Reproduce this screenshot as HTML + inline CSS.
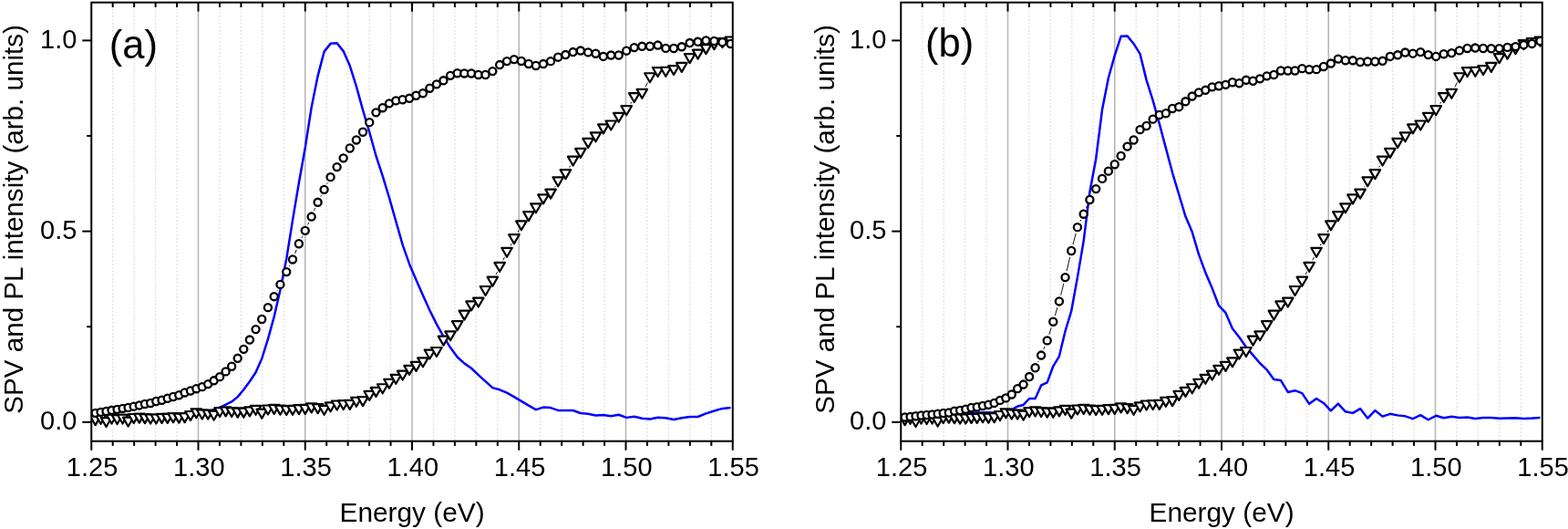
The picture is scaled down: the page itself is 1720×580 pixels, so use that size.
<!DOCTYPE html>
<html><head><meta charset="utf-8"><title>SPV and PL spectra</title>
<style>html,body{margin:0;padding:0;background:#fff;}body{width:1720px;height:580px;overflow:hidden;}svg{display:block;}</style>
</head><body>
<svg width="1720" height="580" viewBox="0 0 1720 580" font-family="'Liberation Sans', Arial, sans-serif">
<defs><clipPath id="clipa"><rect x="100.25" y="2.7" width="703.5" height="481"/></clipPath><clipPath id="clipb"><rect x="988.25" y="2.7" width="703.5" height="481"/></clipPath></defs>
<rect width="1720" height="580" fill="#fff"/>
<g stroke="#e0e0e0" stroke-width="1.3" stroke-dasharray="2 2"><line x1="123.7" y1="8.7" x2="123.7" y2="483.7"/><line x1="147.15" y1="8.7" x2="147.15" y2="483.7"/><line x1="170.6" y1="8.7" x2="170.6" y2="483.7"/><line x1="194.05" y1="8.7" x2="194.05" y2="483.7"/><line x1="240.95" y1="8.7" x2="240.95" y2="483.7"/><line x1="264.4" y1="8.7" x2="264.4" y2="483.7"/><line x1="287.85" y1="8.7" x2="287.85" y2="483.7"/><line x1="311.3" y1="8.7" x2="311.3" y2="483.7"/><line x1="358.2" y1="8.7" x2="358.2" y2="483.7"/><line x1="381.65" y1="8.7" x2="381.65" y2="483.7"/><line x1="405.1" y1="8.7" x2="405.1" y2="483.7"/><line x1="428.55" y1="8.7" x2="428.55" y2="483.7"/><line x1="475.45" y1="8.7" x2="475.45" y2="483.7"/><line x1="498.9" y1="8.7" x2="498.9" y2="483.7"/><line x1="522.35" y1="8.7" x2="522.35" y2="483.7"/><line x1="545.8" y1="8.7" x2="545.8" y2="483.7"/><line x1="592.7" y1="8.7" x2="592.7" y2="483.7"/><line x1="616.15" y1="8.7" x2="616.15" y2="483.7"/><line x1="639.6" y1="8.7" x2="639.6" y2="483.7"/><line x1="663.05" y1="8.7" x2="663.05" y2="483.7"/><line x1="709.95" y1="8.7" x2="709.95" y2="483.7"/><line x1="733.4" y1="8.7" x2="733.4" y2="483.7"/><line x1="756.85" y1="8.7" x2="756.85" y2="483.7"/><line x1="780.3" y1="8.7" x2="780.3" y2="483.7"/></g>
<g stroke="#b4b4b4" stroke-width="1.5"><line x1="217.5" y1="12.7" x2="217.5" y2="483.7"/><line x1="334.75" y1="12.7" x2="334.75" y2="483.7"/><line x1="452" y1="12.7" x2="452" y2="483.7"/><line x1="569.25" y1="12.7" x2="569.25" y2="483.7"/><line x1="686.5" y1="12.7" x2="686.5" y2="483.7"/></g>
<g clip-path="url(#clipa)">
<polyline fill="none" stroke="#0000ff" stroke-width="2.5" stroke-linejoin="round" points="104.61,458.03 110.55,458.06 116.51,458.1 122.5,458.13 128.51,458.17 134.55,458.2 140.61,458.24 146.7,458.27 152.81,458.31 158.95,458.35 165.11,458.38 171.3,458.42 177.51,458.46 183.75,458.49 190.01,457.91 196.31,457.18 202.62,456.44 208.97,455.7 215.34,454.91 221.73,453.2 228.16,451.49 234.61,449.25 241.09,446.79 247.59,443.7 254.13,440.44 260.69,435.12 267.28,427.24 273.9,418.2 280.54,408.27 287.22,393.14 293.92,371.89 300.65,347.4 307.41,317.94 314.2,283.99 321.02,241.37 327.87,200.49 334.75,162.04 341.66,117.7 348.6,83.37 355.57,56.62 362.57,47.86 369.6,47.2 376.66,56.1 383.76,72.07 390.88,94.6 398.04,120.56 405.23,144.82 412.45,170.75 419.7,192.77 426.98,216.94 434.3,242.56 441.65,268.29 449.04,289.42 456.45,306.73 463.91,323.79 471.39,340.28 478.91,355.32 486.46,368.81 494.05,381.08 501.67,391.51 509.33,398.4 517.02,403.74 524.75,411.08 532.52,418.2 540.32,425.08 548.15,427.28 556.03,430.62 563.94,435.11 571.88,439.88 579.87,444.67 587.89,449.13 595.95,446.59 604.05,447.1 612.18,449.89 620.36,450 628.57,450 636.83,453 645.12,453.77 653.45,455.44 661.82,455.04 670.23,456.33 678.69,454.76 687.18,457.88 695.72,456.83 704.29,458.82 712.91,459.45 721.57,457.71 730.27,458.3 739.02,460.05 747.81,458.24 756.64,457 765.52,457 774.44,453.32 783.4,450.46 792.41,447.88 801.46,447.11"/>
<path fill="none" stroke="#111" stroke-width="1" d="M544.07 301.09L545.54 298.1M551.87 285.23L553.43 282.06M560.11 269.23L561.16 267.28M567.97 254.63L569.13 252.47M608.59 205.19L609.2 204.18M624.59 183.62L625.73 181.62M691.68 113.74L692.75 111.97M708.01 95.26L710.32 90.54"/>
<g fill="#fff" stroke="#000" stroke-width="2.2" stroke-linejoin="round"><path d="M98.86 456.12H110.36L104.61 466.08Z"/><path d="M104.8 454.84H116.3L110.55 464.8Z"/><path d="M110.76 458.05H122.26L116.51 468.01Z"/><path d="M116.75 454.57H128.25L122.5 464.53Z"/><path d="M122.76 455.08H134.26L128.51 465.04Z"/><path d="M128.8 454.55H140.3L134.55 464.5Z"/><path d="M134.86 457.61H146.36L140.61 467.57Z"/><path d="M140.95 454.01H152.45L146.7 463.97Z"/><path d="M147.06 453.65H158.56L152.81 463.6Z"/><path d="M153.2 454.13H164.7L158.95 464.09Z"/><path d="M159.36 454.52H170.86L165.11 464.48Z"/><path d="M165.55 454.52H177.05L171.3 464.47Z"/><path d="M171.76 453.87H183.26L177.51 463.83Z"/><path d="M178 453.87H189.5L183.75 463.83Z"/><path d="M184.26 453.22H195.76L190.01 463.18Z"/><path d="M190.56 453.62H202.06L196.31 463.58Z"/><path d="M196.87 453.18H208.37L202.62 463.14Z"/><path d="M203.22 451.02H214.72L208.97 460.98Z"/><path d="M209.59 448.28H221.09L215.34 458.24Z"/><path d="M215.98 449.49H227.48L221.73 459.45Z"/><path d="M222.41 449.53H233.91L228.16 459.49Z"/><path d="M228.86 450.61H240.36L234.61 460.57Z"/><path d="M235.34 447.11H246.84L241.09 457.07Z"/><path d="M241.84 446.38H253.34L247.59 456.34Z"/><path d="M248.38 447.06H259.88L254.13 457.02Z"/><path d="M254.94 447.65H266.44L260.69 457.61Z"/><path d="M261.53 447.68H273.03L267.28 457.64Z"/><path d="M268.15 446.38H279.65L273.9 456.34Z"/><path d="M274.79 444.83H286.29L280.54 454.79Z"/><path d="M281.47 448.71H292.97L287.22 458.67Z"/><path d="M288.17 444.5H299.67L293.92 454.46Z"/><path d="M294.9 443.94H306.4L300.65 453.9Z"/><path d="M301.66 444.63H313.16L307.41 454.59Z"/><path d="M308.45 445.07H319.95L314.2 455.03Z"/><path d="M315.27 444.86H326.77L321.02 454.82Z"/><path d="M322.12 444.12H333.62L327.87 454.08Z"/><path d="M329 443.87H340.5L334.75 453.83Z"/><path d="M335.91 442.42H347.41L341.66 452.38Z"/><path d="M342.85 443.2H354.35L348.6 453.16Z"/><path d="M349.82 444.79H361.32L355.57 454.75Z"/><path d="M356.82 441.35H368.32L362.57 451.31Z"/><path d="M363.85 439.51H375.35L369.6 449.47Z"/><path d="M370.91 439.11H382.41L376.66 449.07Z"/><path d="M378.01 438.87H389.51L383.76 448.83Z"/><path d="M385.13 435.77H396.63L390.88 445.73Z"/><path d="M392.29 435.13H403.79L398.04 445.08Z"/><path d="M399.48 428.95H410.98L405.23 438.9Z"/><path d="M406.7 424.9H418.2L412.45 434.86Z"/><path d="M413.95 421.27H425.45L419.7 431.23Z"/><path d="M421.23 415.77H432.73L426.98 425.73Z"/><path d="M428.55 410.85H440.05L434.3 420.81Z"/><path d="M435.9 406.59H447.4L441.65 416.55Z"/><path d="M443.29 400.86H454.79L449.04 410.82Z"/><path d="M450.7 396.94H462.2L456.45 406.9Z"/><path d="M458.16 392.33H469.66L463.91 402.29Z"/><path d="M465.64 383.57H477.14L471.39 393.53Z"/><path d="M473.16 381H484.66L478.91 390.96Z"/><path d="M480.71 368.66H492.21L486.46 378.62Z"/><path d="M488.3 363.36H499.8L494.05 373.32Z"/><path d="M495.92 352.16H507.42L501.67 362.12Z"/><path d="M503.58 340.64H515.08L509.33 350.6Z"/><path d="M511.27 330.46H522.77L517.02 340.42Z"/><path d="M519 326.59H530.5L524.75 336.55Z"/><path d="M526.77 313.99H538.27L532.52 323.95Z"/><path d="M534.57 303.69H546.07L540.32 313.65Z"/><path d="M542.4 287.84H553.9L548.15 297.8Z"/><path d="M550.28 271.78H561.78L556.03 281.74Z"/><path d="M558.19 257.18H569.69L563.94 267.14Z"/><path d="M566.13 242.35H577.63L571.88 252.31Z"/><path d="M574.12 232.12H585.62L579.87 242.08Z"/><path d="M582.14 223.28H593.64L587.89 233.24Z"/><path d="M590.2 213.45H601.7L595.95 223.41Z"/><path d="M598.3 207.66H609.8L604.05 217.62Z"/><path d="M606.43 194.3H617.93L612.18 204.26Z"/><path d="M614.61 186.15H626.11L620.36 196.11Z"/><path d="M622.82 171.59H634.32L628.57 181.55Z"/><path d="M631.08 162.92H642.58L636.83 172.88Z"/><path d="M639.37 151.93H650.87L645.12 161.89Z"/><path d="M647.7 145.31H659.2L653.45 155.26Z"/><path d="M656.07 136.42H667.57L661.82 146.38Z"/><path d="M664.48 132.49H675.98L670.23 142.44Z"/><path d="M672.94 123.83H684.44L678.69 133.79Z"/><path d="M681.43 116.22H692.93L687.18 126.18Z"/><path d="M689.97 102.08H701.47L695.72 112.04Z"/><path d="M698.54 97.86H710.04L704.29 107.82Z"/><path d="M707.16 80.26H718.66L712.91 90.22Z"/><path d="M715.82 74.05H727.32L721.57 84.01Z"/><path d="M724.52 73.77H736.02L730.27 83.73Z"/><path d="M733.27 72.11H744.77L739.02 82.07Z"/><path d="M742.06 68.93H753.56L747.81 78.89Z"/><path d="M750.89 59.18H762.39L756.64 69.14Z"/><path d="M759.77 54.63H771.27L765.52 64.59Z"/><path d="M768.69 49.12H780.19L774.44 59.08Z"/><path d="M777.65 44.21H789.15L783.4 54.17Z"/><path d="M786.66 42.04H798.16L792.41 52Z"/><path d="M795.71 40.52H807.21L801.46 50.48Z"/></g>
<path fill="none" stroke="#111" stroke-width="1" d="M303.83 318.94L304.23 318.16M310.5 305.64L311.11 304.39M317.33 291.84L317.89 290.72M323.61 277.95L325.28 273.75M330.89 260.93L331.73 259.17M337.63 246.48L338.78 243.94M344.48 231.16L345.78 228.21M351.73 215.54L352.44 214.13M358.75 201.63L359.39 200.38"/>
<g fill="#fff" stroke="#000" stroke-width="2.3"><circle cx="104.61" cy="452.85" r="4.05"/><circle cx="110.55" cy="451.86" r="4.05"/><circle cx="116.51" cy="450.95" r="4.05"/><circle cx="122.5" cy="449.8" r="4.05"/><circle cx="128.51" cy="448.84" r="4.05"/><circle cx="134.55" cy="447.87" r="4.05"/><circle cx="140.61" cy="446.88" r="4.05"/><circle cx="146.7" cy="445.66" r="4.05"/><circle cx="152.81" cy="444.43" r="4.05"/><circle cx="158.95" cy="442.97" r="4.05"/><circle cx="165.11" cy="441.96" r="4.05"/><circle cx="171.3" cy="439.99" r="4.05"/><circle cx="177.51" cy="438.75" r="4.05"/><circle cx="183.75" cy="436.75" r="4.05"/><circle cx="190.01" cy="435" r="4.05"/><circle cx="196.31" cy="433.23" r="4.05"/><circle cx="202.62" cy="430.46" r="4.05"/><circle cx="208.97" cy="428.51" r="4.05"/><circle cx="215.34" cy="426.22" r="4.05"/><circle cx="221.73" cy="424.15" r="4.05"/><circle cx="228.16" cy="421.11" r="4.05"/><circle cx="234.61" cy="417.31" r="4.05"/><circle cx="241.09" cy="413.14" r="4.05"/><circle cx="247.59" cy="407.38" r="4.05"/><circle cx="254.13" cy="401.75" r="4.05"/><circle cx="260.69" cy="392.81" r="4.05"/><circle cx="267.28" cy="382.84" r="4.05"/><circle cx="273.9" cy="372.55" r="4.05"/><circle cx="280.54" cy="361.11" r="4.05"/><circle cx="287.22" cy="349.97" r="4.05"/><circle cx="293.92" cy="337.16" r="4.05"/><circle cx="300.65" cy="325.18" r="4.05"/><circle cx="307.41" cy="311.92" r="4.05"/><circle cx="314.2" cy="298.11" r="4.05"/><circle cx="321.02" cy="284.46" r="4.05"/><circle cx="327.87" cy="267.25" r="4.05"/><circle cx="334.75" cy="252.85" r="4.05"/><circle cx="341.66" cy="237.56" r="4.05"/><circle cx="348.6" cy="221.8" r="4.05"/><circle cx="355.57" cy="207.87" r="4.05"/><circle cx="362.57" cy="194.14" r="4.05"/><circle cx="369.6" cy="183.11" r="4.05"/><circle cx="376.66" cy="173.37" r="4.05"/><circle cx="383.76" cy="162.49" r="4.05"/><circle cx="390.88" cy="153.47" r="4.05"/><circle cx="398.04" cy="144.76" r="4.05"/><circle cx="405.23" cy="134.16" r="4.05"/><circle cx="412.45" cy="123.33" r="4.05"/><circle cx="419.7" cy="118.21" r="4.05"/><circle cx="426.98" cy="113.34" r="4.05"/><circle cx="434.3" cy="110.38" r="4.05"/><circle cx="441.65" cy="109.24" r="4.05"/><circle cx="449.04" cy="107.79" r="4.05"/><circle cx="456.45" cy="104.73" r="4.05"/><circle cx="463.91" cy="102.2" r="4.05"/><circle cx="471.39" cy="96.72" r="4.05"/><circle cx="478.91" cy="92.33" r="4.05"/><circle cx="486.46" cy="88.29" r="4.05"/><circle cx="494.05" cy="82.83" r="4.05"/><circle cx="501.67" cy="80.2" r="4.05"/><circle cx="509.33" cy="80.46" r="4.05"/><circle cx="517.02" cy="80.5" r="4.05"/><circle cx="524.75" cy="81.95" r="4.05"/><circle cx="532.52" cy="81.99" r="4.05"/><circle cx="540.32" cy="78.09" r="4.05"/><circle cx="548.15" cy="71.06" r="4.05"/><circle cx="556.03" cy="67.11" r="4.05"/><circle cx="563.94" cy="65.08" r="4.05"/><circle cx="571.88" cy="66.97" r="4.05"/><circle cx="579.87" cy="69.95" r="4.05"/><circle cx="587.89" cy="71.97" r="4.05"/><circle cx="595.95" cy="70.07" r="4.05"/><circle cx="604.05" cy="67.16" r="4.05"/><circle cx="612.18" cy="62.68" r="4.05"/><circle cx="620.36" cy="60.04" r="4.05"/><circle cx="628.57" cy="57.06" r="4.05"/><circle cx="636.83" cy="55.53" r="4.05"/><circle cx="645.12" cy="57.41" r="4.05"/><circle cx="653.45" cy="58.7" r="4.05"/><circle cx="661.82" cy="61.93" r="4.05"/><circle cx="670.23" cy="60.55" r="4.05"/><circle cx="678.69" cy="60.5" r="4.05"/><circle cx="687.18" cy="55.69" r="4.05"/><circle cx="695.72" cy="52.12" r="4.05"/><circle cx="704.29" cy="50.78" r="4.05"/><circle cx="712.91" cy="50.75" r="4.05"/><circle cx="721.57" cy="49.56" r="4.05"/><circle cx="730.27" cy="52.91" r="4.05"/><circle cx="739.02" cy="53" r="4.05"/><circle cx="747.81" cy="51.29" r="4.05"/><circle cx="756.64" cy="47.05" r="4.05"/><circle cx="765.52" cy="45.78" r="4.05"/><circle cx="774.44" cy="44.51" r="4.05"/><circle cx="783.4" cy="44.98" r="4.05"/><circle cx="792.41" cy="46.24" r="4.05"/><circle cx="801.46" cy="48" r="4.05"/></g>
</g>
<rect x="100.25" y="2.7" width="703.5" height="481" fill="none" stroke="#000" stroke-width="2"/>
<g stroke="#000" stroke-width="2"><line x1="100.25" y1="483.7" x2="100.25" y2="493.7"/><line x1="123.7" y1="2.7" x2="123.7" y2="8"/><line x1="123.7" y1="483.7" x2="123.7" y2="488.9"/><line x1="147.15" y1="2.7" x2="147.15" y2="8"/><line x1="147.15" y1="483.7" x2="147.15" y2="488.9"/><line x1="170.6" y1="2.7" x2="170.6" y2="8"/><line x1="170.6" y1="483.7" x2="170.6" y2="488.9"/><line x1="194.05" y1="2.7" x2="194.05" y2="8"/><line x1="194.05" y1="483.7" x2="194.05" y2="488.9"/><line x1="217.5" y1="2.7" x2="217.5" y2="12.7"/><line x1="217.5" y1="483.7" x2="217.5" y2="493.7"/><line x1="240.95" y1="2.7" x2="240.95" y2="8"/><line x1="240.95" y1="483.7" x2="240.95" y2="488.9"/><line x1="264.4" y1="2.7" x2="264.4" y2="8"/><line x1="264.4" y1="483.7" x2="264.4" y2="488.9"/><line x1="287.85" y1="2.7" x2="287.85" y2="8"/><line x1="287.85" y1="483.7" x2="287.85" y2="488.9"/><line x1="311.3" y1="2.7" x2="311.3" y2="8"/><line x1="311.3" y1="483.7" x2="311.3" y2="488.9"/><line x1="334.75" y1="2.7" x2="334.75" y2="12.7"/><line x1="334.75" y1="483.7" x2="334.75" y2="493.7"/><line x1="358.2" y1="2.7" x2="358.2" y2="8"/><line x1="358.2" y1="483.7" x2="358.2" y2="488.9"/><line x1="381.65" y1="2.7" x2="381.65" y2="8"/><line x1="381.65" y1="483.7" x2="381.65" y2="488.9"/><line x1="405.1" y1="2.7" x2="405.1" y2="8"/><line x1="405.1" y1="483.7" x2="405.1" y2="488.9"/><line x1="428.55" y1="2.7" x2="428.55" y2="8"/><line x1="428.55" y1="483.7" x2="428.55" y2="488.9"/><line x1="452" y1="2.7" x2="452" y2="12.7"/><line x1="452" y1="483.7" x2="452" y2="493.7"/><line x1="475.45" y1="2.7" x2="475.45" y2="8"/><line x1="475.45" y1="483.7" x2="475.45" y2="488.9"/><line x1="498.9" y1="2.7" x2="498.9" y2="8"/><line x1="498.9" y1="483.7" x2="498.9" y2="488.9"/><line x1="522.35" y1="2.7" x2="522.35" y2="8"/><line x1="522.35" y1="483.7" x2="522.35" y2="488.9"/><line x1="545.8" y1="2.7" x2="545.8" y2="8"/><line x1="545.8" y1="483.7" x2="545.8" y2="488.9"/><line x1="569.25" y1="2.7" x2="569.25" y2="12.7"/><line x1="569.25" y1="483.7" x2="569.25" y2="493.7"/><line x1="592.7" y1="2.7" x2="592.7" y2="8"/><line x1="592.7" y1="483.7" x2="592.7" y2="488.9"/><line x1="616.15" y1="2.7" x2="616.15" y2="8"/><line x1="616.15" y1="483.7" x2="616.15" y2="488.9"/><line x1="639.6" y1="2.7" x2="639.6" y2="8"/><line x1="639.6" y1="483.7" x2="639.6" y2="488.9"/><line x1="663.05" y1="2.7" x2="663.05" y2="8"/><line x1="663.05" y1="483.7" x2="663.05" y2="488.9"/><line x1="686.5" y1="2.7" x2="686.5" y2="12.7"/><line x1="686.5" y1="483.7" x2="686.5" y2="493.7"/><line x1="709.95" y1="2.7" x2="709.95" y2="8"/><line x1="709.95" y1="483.7" x2="709.95" y2="488.9"/><line x1="733.4" y1="2.7" x2="733.4" y2="8"/><line x1="733.4" y1="483.7" x2="733.4" y2="488.9"/><line x1="756.85" y1="2.7" x2="756.85" y2="8"/><line x1="756.85" y1="483.7" x2="756.85" y2="488.9"/><line x1="780.3" y1="2.7" x2="780.3" y2="8"/><line x1="780.3" y1="483.7" x2="780.3" y2="488.9"/><line x1="803.75" y1="483.7" x2="803.75" y2="493.7"/><line x1="90.25" y1="462.8" x2="100.25" y2="462.8"/><line x1="95.25" y1="358.2" x2="100.25" y2="358.2"/><line x1="90.25" y1="253.6" x2="100.25" y2="253.6"/><line x1="95.25" y1="149" x2="100.25" y2="149"/><line x1="90.25" y1="44.4" x2="100.25" y2="44.4"/></g>
<g font-size="29px"><text x="101.05" y="522" text-anchor="middle">1.25</text><text x="218.3" y="522" text-anchor="middle">1.30</text><text x="335.55" y="522" text-anchor="middle">1.35</text><text x="452.8" y="522" text-anchor="middle">1.40</text><text x="570.05" y="522" text-anchor="middle">1.45</text><text x="687.3" y="522" text-anchor="middle">1.50</text><text x="804.55" y="522" text-anchor="middle">1.55</text><text x="84.45" y="471.3" text-anchor="end">0.0</text><text x="84.45" y="262.1" text-anchor="end">0.5</text><text x="84.45" y="52.9" text-anchor="end">1.0</text></g>
<text x="452.1" y="572.4" font-size="29.8px" text-anchor="middle">Energy (eV)</text>
<text transform="translate(24.6 240.4) rotate(-90)" font-size="29.6px" text-anchor="middle">SPV and PL intensity (arb. units)</text>
<text x="146.3" y="63.8" font-size="43.5px" text-anchor="middle">(a)</text>
<g stroke="#e0e0e0" stroke-width="1.3" stroke-dasharray="2 2"><line x1="1011.7" y1="8.7" x2="1011.7" y2="483.7"/><line x1="1035.15" y1="8.7" x2="1035.15" y2="483.7"/><line x1="1058.6" y1="8.7" x2="1058.6" y2="483.7"/><line x1="1082.05" y1="8.7" x2="1082.05" y2="483.7"/><line x1="1128.95" y1="8.7" x2="1128.95" y2="483.7"/><line x1="1152.4" y1="8.7" x2="1152.4" y2="483.7"/><line x1="1175.85" y1="8.7" x2="1175.85" y2="483.7"/><line x1="1199.3" y1="8.7" x2="1199.3" y2="483.7"/><line x1="1246.2" y1="8.7" x2="1246.2" y2="483.7"/><line x1="1269.65" y1="8.7" x2="1269.65" y2="483.7"/><line x1="1293.1" y1="8.7" x2="1293.1" y2="483.7"/><line x1="1316.55" y1="8.7" x2="1316.55" y2="483.7"/><line x1="1363.45" y1="8.7" x2="1363.45" y2="483.7"/><line x1="1386.9" y1="8.7" x2="1386.9" y2="483.7"/><line x1="1410.35" y1="8.7" x2="1410.35" y2="483.7"/><line x1="1433.8" y1="8.7" x2="1433.8" y2="483.7"/><line x1="1480.7" y1="8.7" x2="1480.7" y2="483.7"/><line x1="1504.15" y1="8.7" x2="1504.15" y2="483.7"/><line x1="1527.6" y1="8.7" x2="1527.6" y2="483.7"/><line x1="1551.05" y1="8.7" x2="1551.05" y2="483.7"/><line x1="1597.95" y1="8.7" x2="1597.95" y2="483.7"/><line x1="1621.4" y1="8.7" x2="1621.4" y2="483.7"/><line x1="1644.85" y1="8.7" x2="1644.85" y2="483.7"/><line x1="1668.3" y1="8.7" x2="1668.3" y2="483.7"/></g>
<g stroke="#b4b4b4" stroke-width="1.5"><line x1="1105.5" y1="12.7" x2="1105.5" y2="483.7"/><line x1="1222.75" y1="12.7" x2="1222.75" y2="483.7"/><line x1="1340" y1="12.7" x2="1340" y2="483.7"/><line x1="1457.25" y1="12.7" x2="1457.25" y2="483.7"/><line x1="1574.5" y1="12.7" x2="1574.5" y2="483.7"/></g>
<g clip-path="url(#clipb)">
<polyline fill="none" stroke="#0000ff" stroke-width="2.5" stroke-linejoin="round" points="992.61,455.42 998.55,455.3 1004.51,455.19 1010.5,455.07 1016.51,454.95 1022.55,454.84 1028.61,454.72 1034.7,454.6 1040.81,454.44 1046.95,453.94 1053.11,453.45 1059.3,452.96 1065.51,452.49 1071.75,452.43 1078.01,452.36 1084.31,452.32 1090.62,452.4 1096.97,452.49 1103.34,450.9 1109.73,448.98 1116.16,445.54 1122.61,443.95 1129.09,436.98 1135.59,437.04 1142.13,422.44 1148.69,419.36 1155.28,401.54 1161.9,390.55 1168.54,363.03 1175.22,340.91 1181.92,304.11 1188.65,264.36 1195.41,210.59 1202.2,174.26 1209.02,120.33 1215.87,85.51 1222.75,60.94 1229.66,39.83 1236.6,39.4 1243.57,47.95 1250.57,59.12 1257.6,87.83 1264.66,110.2 1271.76,135.67 1278.88,162.31 1286.04,189.29 1293.23,213.25 1300.45,237.32 1307.7,254.3 1314.98,278.94 1322.3,298.79 1329.65,316.07 1337.04,335.21 1344.45,342.91 1351.91,360.2 1359.39,369.82 1366.91,380.44 1374.46,389.39 1382.05,398.23 1389.67,405.45 1397.33,416.01 1405.02,417.04 1412.75,429.93 1420.52,428.19 1428.32,431.09 1436.15,442.85 1444.03,436.93 1451.94,441.96 1459.88,450.38 1467.87,442.63 1475.89,451.35 1483.95,452.88 1492.05,448.06 1500.18,458.55 1508.36,450.09 1516.57,456.64 1524.83,453.81 1533.12,455.37 1541.45,456.32 1549.82,459.19 1558.23,455.16 1566.69,460.26 1575.18,455.8 1583.72,458.24 1592.29,456.79 1600.91,457.95 1609.57,457.52 1618.27,458.92 1627.02,458.05 1635.81,458 1644.64,458.72 1653.52,458.51 1662.44,458.25 1671.4,458.92 1680.41,458.55 1689.46,457.91"/>
<path fill="none" stroke="#111" stroke-width="1" d="M1432.07 301.09L1433.54 298.1M1439.87 285.23L1441.43 282.06M1448.11 269.23L1449.16 267.28M1455.97 254.63L1457.13 252.47M1496.59 205.19L1497.2 204.18M1512.59 183.62L1513.73 181.62M1579.68 113.74L1580.75 111.97M1596.01 95.26L1598.32 90.54"/>
<g fill="#fff" stroke="#000" stroke-width="2.2" stroke-linejoin="round"><path d="M986.86 456.12H998.36L992.61 466.08Z"/><path d="M992.8 454.84H1004.3L998.55 464.8Z"/><path d="M998.76 458.05H1010.26L1004.51 468.01Z"/><path d="M1004.75 454.57H1016.25L1010.5 464.53Z"/><path d="M1010.76 455.08H1022.26L1016.51 465.04Z"/><path d="M1016.8 454.55H1028.3L1022.55 464.5Z"/><path d="M1022.86 457.61H1034.36L1028.61 467.57Z"/><path d="M1028.95 454.01H1040.45L1034.7 463.97Z"/><path d="M1035.06 453.65H1046.56L1040.81 463.6Z"/><path d="M1041.2 454.13H1052.7L1046.95 464.09Z"/><path d="M1047.36 454.52H1058.86L1053.11 464.48Z"/><path d="M1053.55 454.52H1065.05L1059.3 464.47Z"/><path d="M1059.76 453.87H1071.26L1065.51 463.83Z"/><path d="M1066 453.87H1077.5L1071.75 463.83Z"/><path d="M1072.26 453.22H1083.76L1078.01 463.18Z"/><path d="M1078.56 453.62H1090.06L1084.31 463.58Z"/><path d="M1084.87 453.18H1096.37L1090.62 463.14Z"/><path d="M1091.22 451.02H1102.72L1096.97 460.98Z"/><path d="M1097.59 448.28H1109.09L1103.34 458.24Z"/><path d="M1103.98 449.49H1115.48L1109.73 459.45Z"/><path d="M1110.41 449.53H1121.91L1116.16 459.49Z"/><path d="M1116.86 450.61H1128.36L1122.61 460.57Z"/><path d="M1123.34 447.11H1134.84L1129.09 457.07Z"/><path d="M1129.84 446.38H1141.34L1135.59 456.34Z"/><path d="M1136.38 447.06H1147.88L1142.13 457.02Z"/><path d="M1142.94 447.65H1154.44L1148.69 457.61Z"/><path d="M1149.53 447.68H1161.03L1155.28 457.64Z"/><path d="M1156.15 446.38H1167.65L1161.9 456.34Z"/><path d="M1162.79 444.83H1174.29L1168.54 454.79Z"/><path d="M1169.47 448.71H1180.97L1175.22 458.67Z"/><path d="M1176.17 444.5H1187.67L1181.92 454.46Z"/><path d="M1182.9 443.94H1194.4L1188.65 453.9Z"/><path d="M1189.66 444.63H1201.16L1195.41 454.59Z"/><path d="M1196.45 445.07H1207.95L1202.2 455.03Z"/><path d="M1203.27 444.86H1214.77L1209.02 454.82Z"/><path d="M1210.12 444.12H1221.62L1215.87 454.08Z"/><path d="M1217 443.87H1228.5L1222.75 453.83Z"/><path d="M1223.91 442.42H1235.41L1229.66 452.38Z"/><path d="M1230.85 443.2H1242.35L1236.6 453.16Z"/><path d="M1237.82 444.79H1249.32L1243.57 454.75Z"/><path d="M1244.82 441.35H1256.32L1250.57 451.31Z"/><path d="M1251.85 439.51H1263.35L1257.6 449.47Z"/><path d="M1258.91 439.11H1270.41L1264.66 449.07Z"/><path d="M1266.01 438.87H1277.51L1271.76 448.83Z"/><path d="M1273.13 435.77H1284.63L1278.88 445.73Z"/><path d="M1280.29 435.13H1291.79L1286.04 445.08Z"/><path d="M1287.48 428.95H1298.98L1293.23 438.9Z"/><path d="M1294.7 424.9H1306.2L1300.45 434.86Z"/><path d="M1301.95 421.27H1313.45L1307.7 431.23Z"/><path d="M1309.23 415.77H1320.73L1314.98 425.73Z"/><path d="M1316.55 410.85H1328.05L1322.3 420.81Z"/><path d="M1323.9 406.59H1335.4L1329.65 416.55Z"/><path d="M1331.29 400.86H1342.79L1337.04 410.82Z"/><path d="M1338.7 396.94H1350.2L1344.45 406.9Z"/><path d="M1346.16 392.33H1357.66L1351.91 402.29Z"/><path d="M1353.64 383.57H1365.14L1359.39 393.53Z"/><path d="M1361.16 381H1372.66L1366.91 390.96Z"/><path d="M1368.71 368.66H1380.21L1374.46 378.62Z"/><path d="M1376.3 363.36H1387.8L1382.05 373.32Z"/><path d="M1383.92 352.16H1395.42L1389.67 362.12Z"/><path d="M1391.58 340.64H1403.08L1397.33 350.6Z"/><path d="M1399.27 330.46H1410.77L1405.02 340.42Z"/><path d="M1407 326.59H1418.5L1412.75 336.55Z"/><path d="M1414.77 313.99H1426.27L1420.52 323.95Z"/><path d="M1422.57 303.69H1434.07L1428.32 313.65Z"/><path d="M1430.4 287.84H1441.9L1436.15 297.8Z"/><path d="M1438.28 271.78H1449.78L1444.03 281.74Z"/><path d="M1446.19 257.18H1457.69L1451.94 267.14Z"/><path d="M1454.13 242.35H1465.63L1459.88 252.31Z"/><path d="M1462.12 232.12H1473.62L1467.87 242.08Z"/><path d="M1470.14 223.28H1481.64L1475.89 233.24Z"/><path d="M1478.2 213.45H1489.7L1483.95 223.41Z"/><path d="M1486.3 207.66H1497.8L1492.05 217.62Z"/><path d="M1494.43 194.3H1505.93L1500.18 204.26Z"/><path d="M1502.61 186.15H1514.11L1508.36 196.11Z"/><path d="M1510.82 171.59H1522.32L1516.57 181.55Z"/><path d="M1519.08 162.92H1530.58L1524.83 172.88Z"/><path d="M1527.37 151.93H1538.87L1533.12 161.89Z"/><path d="M1535.7 145.31H1547.2L1541.45 155.26Z"/><path d="M1544.07 136.42H1555.57L1549.82 146.38Z"/><path d="M1552.48 132.49H1563.98L1558.23 142.44Z"/><path d="M1560.94 123.83H1572.44L1566.69 133.79Z"/><path d="M1569.43 116.22H1580.93L1575.18 126.18Z"/><path d="M1577.97 102.08H1589.47L1583.72 112.04Z"/><path d="M1586.54 97.86H1598.04L1592.29 107.82Z"/><path d="M1595.16 80.26H1606.66L1600.91 90.22Z"/><path d="M1603.82 74.05H1615.32L1609.57 84.01Z"/><path d="M1612.52 73.77H1624.02L1618.27 83.73Z"/><path d="M1621.27 72.11H1632.77L1627.02 82.07Z"/><path d="M1630.06 68.93H1641.56L1635.81 78.89Z"/><path d="M1638.89 59.18H1650.39L1644.64 69.14Z"/><path d="M1647.77 54.63H1659.27L1653.52 64.59Z"/><path d="M1656.69 49.12H1668.19L1662.44 59.08Z"/><path d="M1665.65 44.21H1677.15L1671.4 54.17Z"/><path d="M1674.66 42.04H1686.16L1680.41 52Z"/><path d="M1683.71 40.52H1695.21L1689.46 50.48Z"/></g>
<path fill="none" stroke="#111" stroke-width="1" d="M1138.61 396.95L1139.12 395.88M1144.76 383.07L1146.06 379.88M1150.81 366.72L1153.15 359.38M1157.27 346L1159.9 337.15M1163.61 323.65L1166.83 310.87M1170.11 297.26L1173.65 281.81M1176.97 268.21L1180.16 255.91M1184.88 242.79L1185.69 241.06M1191.41 228.28L1192.65 225.39"/>
<g fill="#fff" stroke="#000" stroke-width="2.3"><circle cx="992.61" cy="457.43" r="4.05"/><circle cx="998.55" cy="456.93" r="4.05"/><circle cx="1004.51" cy="456.22" r="4.05"/><circle cx="1010.5" cy="455.5" r="4.05"/><circle cx="1016.51" cy="454.98" r="4.05"/><circle cx="1022.55" cy="454.49" r="4.05"/><circle cx="1028.61" cy="453.74" r="4.05"/><circle cx="1034.7" cy="453.01" r="4.05"/><circle cx="1040.81" cy="452.52" r="4.05"/><circle cx="1046.95" cy="450.6" r="4.05"/><circle cx="1053.11" cy="449.98" r="4.05"/><circle cx="1059.3" cy="448.74" r="4.05"/><circle cx="1065.51" cy="447" r="4.05"/><circle cx="1071.75" cy="446.25" r="4.05"/><circle cx="1078.01" cy="445" r="4.05"/><circle cx="1084.31" cy="443.73" r="4.05"/><circle cx="1090.62" cy="441.94" r="4.05"/><circle cx="1096.97" cy="438.89" r="4.05"/><circle cx="1103.34" cy="436.41" r="4.05"/><circle cx="1109.73" cy="432.48" r="4.05"/><circle cx="1116.16" cy="426.15" r="4.05"/><circle cx="1122.61" cy="421.56" r="4.05"/><circle cx="1129.09" cy="413.04" r="4.05"/><circle cx="1135.59" cy="403.27" r="4.05"/><circle cx="1142.13" cy="389.56" r="4.05"/><circle cx="1148.69" cy="373.39" r="4.05"/><circle cx="1155.28" cy="352.71" r="4.05"/><circle cx="1161.9" cy="330.44" r="4.05"/><circle cx="1168.54" cy="304.08" r="4.05"/><circle cx="1175.22" cy="274.99" r="4.05"/><circle cx="1181.92" cy="249.14" r="4.05"/><circle cx="1188.65" cy="234.71" r="4.05"/><circle cx="1195.41" cy="218.96" r="4.05"/><circle cx="1202.2" cy="207.08" r="4.05"/><circle cx="1209.02" cy="195.88" r="4.05"/><circle cx="1215.87" cy="187.65" r="4.05"/><circle cx="1222.75" cy="180.27" r="4.05"/><circle cx="1229.66" cy="171.01" r="4.05"/><circle cx="1236.6" cy="160.6" r="4.05"/><circle cx="1243.57" cy="153.49" r="4.05"/><circle cx="1250.57" cy="142.15" r="4.05"/><circle cx="1257.6" cy="138" r="4.05"/><circle cx="1264.66" cy="130.64" r="4.05"/><circle cx="1271.76" cy="125.99" r="4.05"/><circle cx="1278.88" cy="124.23" r="4.05"/><circle cx="1286.04" cy="118.99" r="4.05"/><circle cx="1293.23" cy="117.18" r="4.05"/><circle cx="1300.45" cy="111.29" r="4.05"/><circle cx="1307.7" cy="105.54" r="4.05"/><circle cx="1314.98" cy="101.37" r="4.05"/><circle cx="1322.3" cy="98.82" r="4.05"/><circle cx="1329.65" cy="95.36" r="4.05"/><circle cx="1337.04" cy="94.26" r="4.05"/><circle cx="1344.45" cy="92.85" r="4.05"/><circle cx="1351.91" cy="90.23" r="4.05"/><circle cx="1359.39" cy="91.22" r="4.05"/><circle cx="1366.91" cy="87.79" r="4.05"/><circle cx="1374.46" cy="88.73" r="4.05"/><circle cx="1382.05" cy="86.36" r="4.05"/><circle cx="1389.67" cy="83.34" r="4.05"/><circle cx="1397.33" cy="82.01" r="4.05"/><circle cx="1405.02" cy="77.5" r="4.05"/><circle cx="1412.75" cy="77.5" r="4.05"/><circle cx="1420.52" cy="77.49" r="4.05"/><circle cx="1428.32" cy="75.13" r="4.05"/><circle cx="1436.15" cy="76.23" r="4.05"/><circle cx="1444.03" cy="76.14" r="4.05"/><circle cx="1451.94" cy="73.02" r="4.05"/><circle cx="1459.88" cy="69.55" r="4.05"/><circle cx="1467.87" cy="64.58" r="4.05"/><circle cx="1475.89" cy="66.25" r="4.05"/><circle cx="1483.95" cy="66.29" r="4.05"/><circle cx="1492.05" cy="68" r="4.05"/><circle cx="1500.18" cy="67.5" r="4.05"/><circle cx="1508.36" cy="67.48" r="4.05"/><circle cx="1516.57" cy="66.8" r="4.05"/><circle cx="1524.83" cy="61.94" r="4.05"/><circle cx="1533.12" cy="60.29" r="4.05"/><circle cx="1541.45" cy="57.53" r="4.05"/><circle cx="1549.82" cy="58.68" r="4.05"/><circle cx="1558.23" cy="57.09" r="4.05"/><circle cx="1566.69" cy="60.1" r="4.05"/><circle cx="1575.18" cy="61.94" r="4.05"/><circle cx="1583.72" cy="59.2" r="4.05"/><circle cx="1592.29" cy="58.08" r="4.05"/><circle cx="1600.91" cy="55.38" r="4.05"/><circle cx="1609.57" cy="52.97" r="4.05"/><circle cx="1618.27" cy="52.54" r="4.05"/><circle cx="1627.02" cy="53.02" r="4.05"/><circle cx="1635.81" cy="53.25" r="4.05"/><circle cx="1644.64" cy="53.12" r="4.05"/><circle cx="1653.52" cy="51.92" r="4.05"/><circle cx="1662.44" cy="51.09" r="4.05"/><circle cx="1671.4" cy="49.15" r="4.05"/><circle cx="1680.41" cy="47.93" r="4.05"/><circle cx="1689.46" cy="45" r="4.05"/></g>
</g>
<rect x="988.25" y="2.7" width="703.5" height="481" fill="none" stroke="#000" stroke-width="2"/>
<g stroke="#000" stroke-width="2"><line x1="988.25" y1="483.7" x2="988.25" y2="493.7"/><line x1="1011.7" y1="2.7" x2="1011.7" y2="8"/><line x1="1011.7" y1="483.7" x2="1011.7" y2="488.9"/><line x1="1035.15" y1="2.7" x2="1035.15" y2="8"/><line x1="1035.15" y1="483.7" x2="1035.15" y2="488.9"/><line x1="1058.6" y1="2.7" x2="1058.6" y2="8"/><line x1="1058.6" y1="483.7" x2="1058.6" y2="488.9"/><line x1="1082.05" y1="2.7" x2="1082.05" y2="8"/><line x1="1082.05" y1="483.7" x2="1082.05" y2="488.9"/><line x1="1105.5" y1="2.7" x2="1105.5" y2="12.7"/><line x1="1105.5" y1="483.7" x2="1105.5" y2="493.7"/><line x1="1128.95" y1="2.7" x2="1128.95" y2="8"/><line x1="1128.95" y1="483.7" x2="1128.95" y2="488.9"/><line x1="1152.4" y1="2.7" x2="1152.4" y2="8"/><line x1="1152.4" y1="483.7" x2="1152.4" y2="488.9"/><line x1="1175.85" y1="2.7" x2="1175.85" y2="8"/><line x1="1175.85" y1="483.7" x2="1175.85" y2="488.9"/><line x1="1199.3" y1="2.7" x2="1199.3" y2="8"/><line x1="1199.3" y1="483.7" x2="1199.3" y2="488.9"/><line x1="1222.75" y1="2.7" x2="1222.75" y2="12.7"/><line x1="1222.75" y1="483.7" x2="1222.75" y2="493.7"/><line x1="1246.2" y1="2.7" x2="1246.2" y2="8"/><line x1="1246.2" y1="483.7" x2="1246.2" y2="488.9"/><line x1="1269.65" y1="2.7" x2="1269.65" y2="8"/><line x1="1269.65" y1="483.7" x2="1269.65" y2="488.9"/><line x1="1293.1" y1="2.7" x2="1293.1" y2="8"/><line x1="1293.1" y1="483.7" x2="1293.1" y2="488.9"/><line x1="1316.55" y1="2.7" x2="1316.55" y2="8"/><line x1="1316.55" y1="483.7" x2="1316.55" y2="488.9"/><line x1="1340" y1="2.7" x2="1340" y2="12.7"/><line x1="1340" y1="483.7" x2="1340" y2="493.7"/><line x1="1363.45" y1="2.7" x2="1363.45" y2="8"/><line x1="1363.45" y1="483.7" x2="1363.45" y2="488.9"/><line x1="1386.9" y1="2.7" x2="1386.9" y2="8"/><line x1="1386.9" y1="483.7" x2="1386.9" y2="488.9"/><line x1="1410.35" y1="2.7" x2="1410.35" y2="8"/><line x1="1410.35" y1="483.7" x2="1410.35" y2="488.9"/><line x1="1433.8" y1="2.7" x2="1433.8" y2="8"/><line x1="1433.8" y1="483.7" x2="1433.8" y2="488.9"/><line x1="1457.25" y1="2.7" x2="1457.25" y2="12.7"/><line x1="1457.25" y1="483.7" x2="1457.25" y2="493.7"/><line x1="1480.7" y1="2.7" x2="1480.7" y2="8"/><line x1="1480.7" y1="483.7" x2="1480.7" y2="488.9"/><line x1="1504.15" y1="2.7" x2="1504.15" y2="8"/><line x1="1504.15" y1="483.7" x2="1504.15" y2="488.9"/><line x1="1527.6" y1="2.7" x2="1527.6" y2="8"/><line x1="1527.6" y1="483.7" x2="1527.6" y2="488.9"/><line x1="1551.05" y1="2.7" x2="1551.05" y2="8"/><line x1="1551.05" y1="483.7" x2="1551.05" y2="488.9"/><line x1="1574.5" y1="2.7" x2="1574.5" y2="12.7"/><line x1="1574.5" y1="483.7" x2="1574.5" y2="493.7"/><line x1="1597.95" y1="2.7" x2="1597.95" y2="8"/><line x1="1597.95" y1="483.7" x2="1597.95" y2="488.9"/><line x1="1621.4" y1="2.7" x2="1621.4" y2="8"/><line x1="1621.4" y1="483.7" x2="1621.4" y2="488.9"/><line x1="1644.85" y1="2.7" x2="1644.85" y2="8"/><line x1="1644.85" y1="483.7" x2="1644.85" y2="488.9"/><line x1="1668.3" y1="2.7" x2="1668.3" y2="8"/><line x1="1668.3" y1="483.7" x2="1668.3" y2="488.9"/><line x1="1691.75" y1="483.7" x2="1691.75" y2="493.7"/><line x1="978.25" y1="462.8" x2="988.25" y2="462.8"/><line x1="983.25" y1="358.2" x2="988.25" y2="358.2"/><line x1="978.25" y1="253.6" x2="988.25" y2="253.6"/><line x1="983.25" y1="149" x2="988.25" y2="149"/><line x1="978.25" y1="44.4" x2="988.25" y2="44.4"/></g>
<g font-size="29px"><text x="989.05" y="522" text-anchor="middle">1.25</text><text x="1106.3" y="522" text-anchor="middle">1.30</text><text x="1223.55" y="522" text-anchor="middle">1.35</text><text x="1340.8" y="522" text-anchor="middle">1.40</text><text x="1458.05" y="522" text-anchor="middle">1.45</text><text x="1575.3" y="522" text-anchor="middle">1.50</text><text x="1692.55" y="522" text-anchor="middle">1.55</text><text x="972.45" y="471.3" text-anchor="end">0.0</text><text x="972.45" y="262.1" text-anchor="end">0.5</text><text x="972.45" y="52.9" text-anchor="end">1.0</text></g>
<text x="1340.1" y="572.4" font-size="29.8px" text-anchor="middle">Energy (eV)</text>
<text transform="translate(914.6 240.4) rotate(-90)" font-size="29.6px" text-anchor="middle">SPV and PL intensity (arb. units)</text>
<text x="1041.7" y="62.4" font-size="43.5px" text-anchor="middle">(b)</text>
</svg>
</body></html>
